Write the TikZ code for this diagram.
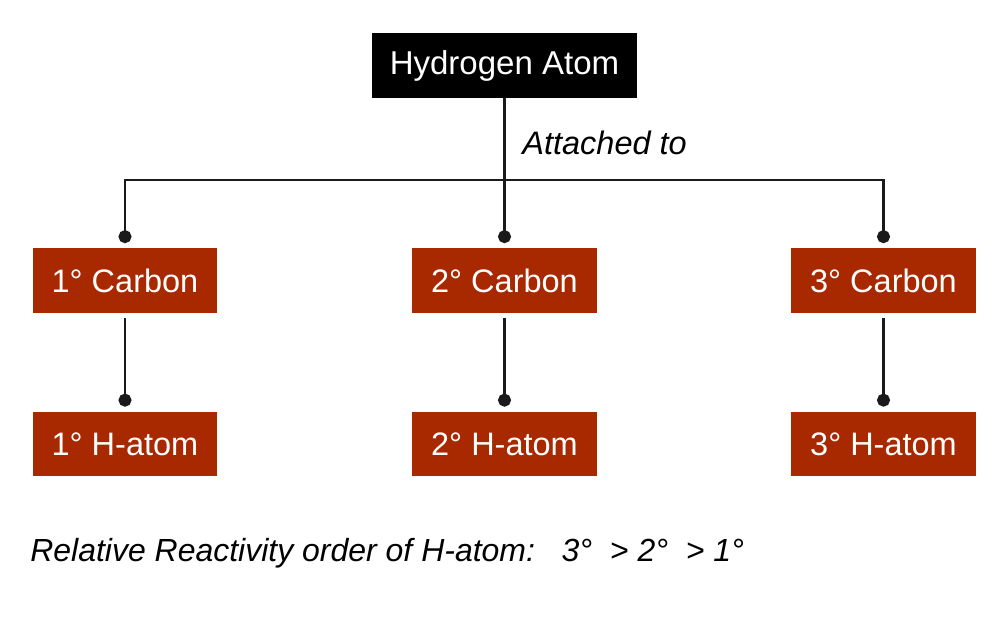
\documentclass[tikz,border=0pt]{standalone}
\usepackage{fontspec}
\setmainfont{Liberation Sans}
\usetikzlibrary{arrows.meta}
\definecolor{carbonred}{RGB}{168,40,0}
\definecolor{linegray}{RGB}{26,26,26}
\begin{document}
\begin{tikzpicture}[x=0.02cm, y=-0.02cm,
	topbox/.style={fill=black, text=white, minimum width=5.3cm, minimum height=1.3cm, inner sep=0pt, font=\fontsize{18.8}{22}\selectfont},
	redbox/.style={fill=carbonred, text=white, minimum width=3.7cm, minimum height=1.3cm, inner sep=0pt, font=\fontsize{18.5}{22}\selectfont},
	link/.style={draw=linegray, line width=1.35pt, -{Circle[length=0.26cm]}, shorten >=0.09cm},
	note/.style={anchor=west, inner sep=0pt, font=\fontsize{18.5}{22}\selectfont\itshape}]

	\useasboundingbox (0,0) rectangle (1000,621);

	\node[topbox] (hatom) at (504.5, 65.5) {Hydrogen Atom};

	\node[redbox] (c1) at (125, 280.5) {1° Carbon};
	\node[redbox] (c2) at (504.5, 280.5) {2° Carbon};
	\node[redbox] (c3) at (883.5, 280.5) {3° Carbon};

	\node[redbox] (h1) at (125, 444) {1° H-atom};
	\node[redbox] (h2) at (504.5, 444) {2° H-atom};
	\node[redbox] (h3) at (883.5, 444) {3° H-atom};

	\coordinate (split) at (504.5, 180);

	\draw[link] (hatom.south) -- (c2.north);
	\draw[link] (split) -| (c1.north);
	\draw[link] (split) -| (c3.north);

	\draw[link, shorten <=0.1cm] (c1.south) -- (h1.north);
	\draw[link, shorten <=0.1cm] (c2.south) -- (h2.north);
	\draw[link, shorten <=0.1cm] (c3.south) -- (h3.north);

	\node[note] (attached) at (522, 143) {Attached to};
	\node[note, font=\fontsize{18.2}{22}\selectfont\itshape] (order) at (30, 553) {Relative Reactivity order of H-atom:\ \ \ 3°\ \ > 2°\ \ > 1°};

\end{tikzpicture}
\end{document}
